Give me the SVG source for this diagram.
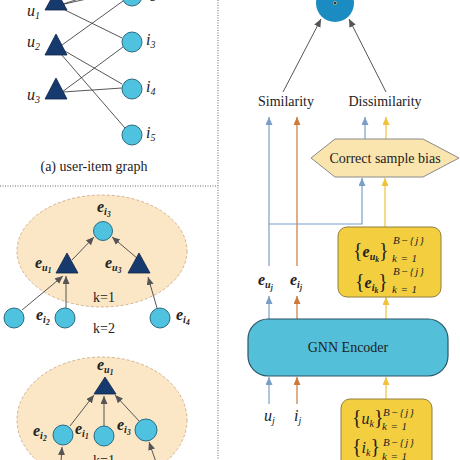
<svg xmlns="http://www.w3.org/2000/svg" width="460" height="460" viewBox="0 0 460 460">
<style>
.t{font-family:"Liberation Serif","DejaVu Serif","Times New Roman",serif;font-size:14px;fill:#222}
.mi{font-family:"Liberation Serif","DejaVu Serif","Times New Roman",serif;font-style:italic;font-size:16px;fill:#222}
.eb{font-weight:bold}
.s1{font-size:10px}
.s2{font-size:7.5px}
.ss{font-size:11px}
.br{font-size:20px;font-style:normal}
.tri{fill:#173a6e;stroke:#0e2548;stroke-width:0.8}
.cir{fill:#4fc2e0;stroke:#2a6c82;stroke-width:1}
.edge{stroke:#444;stroke-width:0.9;fill:none}
.garr{stroke:#555;stroke-width:1;fill:none;marker-end:url(#mg)}
.barr{stroke:#7b9ec8;stroke-width:1.2;fill:none}
.oarr{stroke:#c97a3c;stroke-width:1.2;fill:none}
.yarr{stroke:#f0c23c;stroke-width:1.2;fill:none}
.ell{fill:#fbe6c6;stroke:#c9a37a;stroke-width:0.8;stroke-dasharray:3,2}
.ybox{fill:#f3cf3f;stroke:#8f7e42;stroke-width:1}
.dot{stroke:#666;stroke-width:1;stroke-dasharray:1,1.5;fill:none}
</style>
<defs>
<marker id="mg" markerUnits="userSpaceOnUse" markerWidth="9" markerHeight="8" refX="8" refY="3.5" orient="auto"><path d="M0,0 L8,3.5 L0,7 z" fill="#555"/></marker>
<marker id="mb" markerUnits="userSpaceOnUse" markerWidth="9" markerHeight="8" refX="8" refY="3.5" orient="auto"><path d="M0,0 L8,3.5 L0,7 z" fill="#7b9ec8"/></marker>
<marker id="mo" markerUnits="userSpaceOnUse" markerWidth="9" markerHeight="8" refX="8" refY="3.5" orient="auto"><path d="M0,0 L8,3.5 L0,7 z" fill="#c97a3c"/></marker>
<marker id="my" markerUnits="userSpaceOnUse" markerWidth="9" markerHeight="8" refX="8" refY="3.5" orient="auto"><path d="M0,0 L8,3.5 L0,7 z" fill="#f0c23c"/></marker>
</defs>

<!-- separators -->
<line class="dot" x1="218" y1="0" x2="218" y2="460"/>
<line class="dot" x1="0" y1="186" x2="218" y2="186"/>

<!-- (a) user-item graph edges -->
<g id="ui-edges">
<line class="edge" x1="60" y1="5" x2="122" y2="-9"/>
<line class="edge" x1="60" y1="5" x2="122" y2="-15"/>
<line class="edge" x1="65" y1="10" x2="122" y2="38"/>
<line class="edge" x1="62" y1="45" x2="123" y2="1"/>
<line class="edge" x1="63" y1="50" x2="122" y2="84"/>
<line class="edge" x1="60" y1="53" x2="125" y2="128"/>
<line class="edge" x1="62" y1="92" x2="123" y2="47"/>
<line class="edge" x1="63" y1="92" x2="122" y2="88"/>
</g>
<g id="u1"><polygon class="tri" points="56,-10 67,10 45,10"/><text class="mi" x="27" y="16">u<tspan class="s1" dy="3">1</tspan></text></g>
<g id="u2"><polygon class="tri" points="56,34 67,55 45,55"/><text class="mi" x="27" y="47">u<tspan class="s1" dy="3">2</tspan></text></g>
<g id="u3"><polygon class="tri" points="56,78 67,99 45,99"/><text class="mi" x="27" y="100">u<tspan class="s1" dy="3">3</tspan></text></g>
<g id="i2"><circle class="cir" cx="132" cy="-4" r="10"/><text class="mi" x="146" y="-2">i<tspan class="s1" dy="3">2</tspan></text></g>
<g id="i3"><circle class="cir" cx="132" cy="42" r="10"/><text class="mi" x="146" y="45">i<tspan class="s1" dy="3">3</tspan></text></g>
<g id="i4"><circle class="cir" cx="132" cy="89" r="10"/><text class="mi" x="146" y="92">i<tspan class="s1" dy="3">4</tspan></text></g>
<g id="i5"><circle class="cir" cx="132" cy="135" r="10"/><text class="mi" x="146" y="138">i<tspan class="s1" dy="3">5</tspan></text></g>
<text class="t" x="94" y="171" text-anchor="middle">(a) user-item graph</text>

<!-- tree 1 -->
<ellipse class="ell" cx="102" cy="251" rx="85" ry="56"/>
<g id="tree1-edges">
<line class="garr" x1="72" y1="260" x2="94" y2="237"/>
<line class="garr" x1="137" y1="258" x2="112" y2="237"/>
<line class="garr" x1="22" y1="310" x2="63" y2="276"/>
<line class="garr" x1="66" y1="308" x2="66" y2="276"/>
<line class="garr" x1="157" y1="308" x2="148" y2="277"/>
</g>
<g id="t1-ei3"><circle class="cir" cx="103" cy="231" r="9.5"/><text class="mi eb" x="97" y="212">e<tspan class="s1" dy="3">i</tspan><tspan class="s2" dy="2">3</tspan></text></g>
<g id="t1-eu1"><polygon class="tri" points="67,253 78,273 56,273"/><text class="mi eb" x="35" y="268">e<tspan class="s1" dy="3">u</tspan><tspan class="s2" dy="2">1</tspan></text></g>
<g id="t1-eu3"><polygon class="tri" points="139,253 150,273 128,273"/><text class="mi eb" x="105" y="268">e<tspan class="s1" dy="3">u</tspan><tspan class="s2" dy="2">3</tspan></text></g>
<text class="t" x="104" y="302" text-anchor="middle" font-size="15">k=1</text>
<g id="t1-ei1"><circle class="cir" cx="14" cy="318" r="10"/><text class="mi eb" x="-16" y="320">e<tspan class="s1" dy="3">i</tspan><tspan class="s2" dy="2">1</tspan></text></g>
<g id="t1-ei2"><circle class="cir" cx="65" cy="318" r="10"/><text class="mi eb" x="36" y="320">e<tspan class="s1" dy="3">i</tspan><tspan class="s2" dy="2">2</tspan></text></g>
<g id="t1-ei4"><circle class="cir" cx="160" cy="318" r="10"/><text class="mi eb" x="176" y="320">e<tspan class="s1" dy="3">i</tspan><tspan class="s2" dy="2">4</tspan></text></g>
<text class="t" x="104" y="333" text-anchor="middle" font-size="15">k=2</text>

<!-- tree 2 -->
<ellipse class="ell" cx="102" cy="420" rx="85" ry="63"/>
<g id="tree2-edges">
<line class="garr" x1="70" y1="426" x2="94" y2="395"/>
<line class="garr" x1="104" y1="426" x2="104" y2="396"/>
<line class="garr" x1="140" y1="422" x2="115" y2="395"/>
<line class="garr" x1="61" y1="462" x2="62" y2="447"/>
<line class="garr" x1="156" y1="462" x2="149" y2="442"/>
</g>
<g id="t2-eu1"><polygon class="tri" points="105,377 116,394 94,394"/><text class="mi eb" x="97" y="370">e<tspan class="s1" dy="3">u</tspan><tspan class="s2" dy="2">1</tspan></text></g>
<g id="t2-ei2"><circle class="cir" cx="63" cy="435" r="10"/><text class="mi eb" x="33" y="436">e<tspan class="s1" dy="3">i</tspan><tspan class="s2" dy="2">2</tspan></text></g>
<g id="t2-ei1"><circle class="cir" cx="104" cy="436" r="10"/><text class="mi eb" x="75" y="434">e<tspan class="s1" dy="3">i</tspan><tspan class="s2" dy="2">1</tspan></text></g>
<g id="t2-ei3"><circle class="cir" cx="146" cy="430" r="11"/><text class="mi eb" x="117" y="430">e<tspan class="s1" dy="3">i</tspan><tspan class="s2" dy="2">3</tspan></text></g>
<text class="t" x="104" y="465" text-anchor="middle" font-size="15">k=1</text>

<!-- right panel connectors -->
<g id="connectors">
<line class="garr" x1="283" y1="92" x2="321" y2="19"/>
<line class="garr" x1="386" y1="92" x2="349" y2="19"/>
<line class="barr" x1="269" y1="266" x2="269" y2="117" marker-end="url(#mb)"/>
<line class="oarr" x1="297" y1="266" x2="297" y2="117" marker-end="url(#mo)"/>
<line class="barr" x1="365" y1="139" x2="365" y2="117" marker-end="url(#mb)"/>
<line class="yarr" x1="386" y1="139" x2="386" y2="117" marker-end="url(#my)"/>
<polyline class="barr" points="269,224 362,224 362,178" marker-end="url(#mb)"/>
<line class="yarr" x1="385" y1="227" x2="385" y2="178" marker-end="url(#my)"/>
<line class="barr" x1="269" y1="319" x2="269" y2="296" marker-end="url(#mb)"/>
<line class="oarr" x1="297" y1="319" x2="297" y2="296" marker-end="url(#mo)"/>
<line class="yarr" x1="386" y1="319" x2="386" y2="297" marker-end="url(#my)"/>
<line class="barr" x1="269" y1="404" x2="269" y2="377" marker-end="url(#mb)"/>
<line class="oarr" x1="297" y1="404" x2="297" y2="377" marker-end="url(#mo)"/>
<line class="yarr" x1="386" y1="399" x2="386" y2="377" marker-end="url(#my)"/>
</g>

<g id="loss"><circle cx="335" cy="3" r="19" fill="#1a8cc2"/><circle cx="335" cy="3" r="1.6" fill="#222" stroke="#e8d89a" stroke-width="0.6"/></g>
<g id="similarity"><text class="t" x="286" y="106" text-anchor="middle">Similarity</text></g>
<g id="dissimilarity"><text class="t" x="385" y="106" text-anchor="middle">Dissimilarity</text></g>
<g id="correct"><polygon points="311,158 335,139 423,139 459,158 423,177 335,177" fill="#fbe5ae" stroke="#8a8a8a" stroke-width="1"/><text class="t" x="385" y="163" text-anchor="middle">Correct sample bias</text></g>

<g id="neg-emb"><rect class="ybox" x="338" y="227" width="103" height="70" rx="9"/>
<text class="mi" x="353" y="257" font-size="17"><tspan class="br">{</tspan><tspan class="eb">e</tspan><tspan class="s1 eb" dy="3">u</tspan><tspan class="s2 eb" dy="2">k</tspan><tspan class="br" dy="-5">}</tspan></text>
<text class="mi ss" x="393" y="244" textLength="31">B−{j}</text>
<text class="mi ss" x="392" y="262" textLength="25">k=1</text>
<text class="mi" x="355" y="288" font-size="17"><tspan class="br">{</tspan><tspan class="eb">e</tspan><tspan class="s1 eb" dy="3">i</tspan><tspan class="s2 eb" dy="2">k</tspan><tspan class="br" dy="-5">}</tspan></text>
<text class="mi ss" x="393" y="275" textLength="31">B−{j}</text>
<text class="mi ss" x="392" y="293" textLength="25">k=1</text>
</g>

<g id="euj"><text class="mi eb" x="258" y="285">e<tspan class="s1" dy="3">u</tspan><tspan class="s2" dy="2">j</tspan></text></g>
<g id="eij"><text class="mi eb" x="290" y="285">e<tspan class="s1" dy="3">i</tspan><tspan class="s2" dy="2">j</tspan></text></g>

<g id="gnn"><rect x="248" y="319" width="200" height="57" rx="20" fill="#53bfd9" stroke="#2b5566" stroke-width="1.2"/><text class="t" x="348" y="352" text-anchor="middle">GNN Encoder</text></g>

<g id="uj"><text class="mi" x="264" y="421">u<tspan class="s1" dy="3">j</tspan></text></g>
<g id="ij"><text class="mi" x="294" y="421">i<tspan class="s1" dy="3">j</tspan></text></g>

<g id="neg-ids"><rect class="ybox" x="341" y="399" width="91" height="75" rx="9"/>
<text class="mi" x="352" y="424" font-size="17"><tspan class="br">{</tspan>u<tspan class="s1" dy="3">k</tspan><tspan class="br" dy="-3">}</tspan></text>
<text class="mi ss" x="383" y="416" textLength="31">B−{j}</text>
<text class="mi ss" x="382" y="430" textLength="25">k=1</text>
<text class="mi" x="352" y="453" font-size="17"><tspan class="br">{</tspan>i<tspan class="s1" dy="3">k</tspan><tspan class="br" dy="-3">}</tspan></text>
<text class="mi ss" x="383" y="446" textLength="31">B−{j}</text>
<text class="mi ss" x="382" y="460" textLength="25">k=1</text>
</g>
</svg>
